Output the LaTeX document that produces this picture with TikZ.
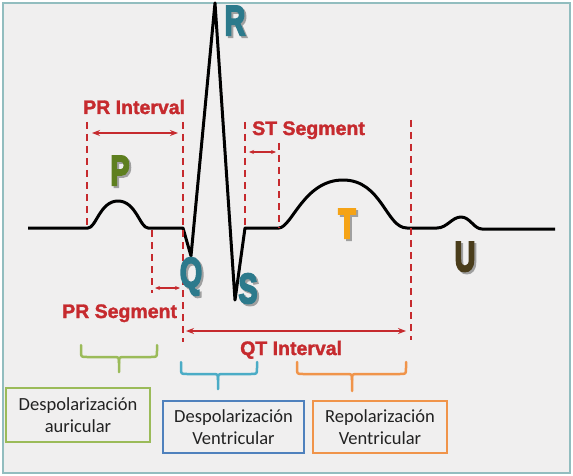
\documentclass[tikz,border=0pt]{standalone}
\usepackage{fontspec}
\usepackage{graphicx}
\newfontfamily\labfont{Liberation Sans}[UprightFont={* Bold}, FakeBold=1.6]
\newfontfamily\bigfont{Liberation Sans}[UprightFont={* Bold}, FakeBold=5]
\newfontfamily\boxfont{Carlito}
\usetikzlibrary{arrows.meta}
\definecolor{redl}{HTML}{C62A2E}
\definecolor{bgc}{HTML}{F0EFEF}
\definecolor{framec}{HTML}{92BDBF}
\definecolor{pcol}{HTML}{5E7F1F}
\definecolor{qcol}{HTML}{2C7A8C}
\definecolor{tcol}{HTML}{F5A316}
\definecolor{ucol}{HTML}{4A3D1B}
\definecolor{shad}{HTML}{A0A0A0}
\definecolor{gbr}{HTML}{9BBB59}
\definecolor{bbr}{HTML}{4BACC6}
\definecolor{obr}{HTML}{F0944A}
\definecolor{bbox}{HTML}{4F81BD}
\definecolor{txt}{HTML}{222222}
\newcommand{\shletter}[2]{\makebox[0pt][l]{\hspace{2pt}\raisebox{-2pt}{\color{shad}\scalebox{0.68}[1]{#2}}}\textcolor{#1}{\scalebox{0.68}[1]{#2}}}
\begin{document}
\begin{tikzpicture}[x=1pt,y=-1pt,
  wave/.style={line width=3pt, black, line join=round},
  guide/.style={redl, line width=2pt, dash pattern=on 7pt off 5pt},
  meas/.style={redl, line width=1.6pt, {Stealth[length=8pt,width=6pt]}-{Stealth[length=8pt,width=6pt]}},
  smeas/.style={redl, line width=1.4pt, {Stealth[length=5pt,width=4pt]}-{Stealth[length=5pt,width=4pt]}},
  redlabel/.style={redl, font=\labfont\fontsize{19.5}{20}\selectfont, inner sep=0pt, anchor=base west},
  bigletter/.style={font=\bigfont\fontsize{42}{42}\selectfont, inner sep=0pt, anchor=base},
  brace/.style={line width=2.5pt, line cap=round, line join=round},
  infobox/.style={draw, line width=1.8pt, inner sep=0pt, font=\boxfont\fontsize{18.5}{22}\selectfont, text=txt, align=center}
]
\useasboundingbox (0,0) rectangle (573,476);
\fill[white] (0,0) rectangle (573,476);
\fill[bgc] (3,3) rectangle (570,473);
\draw[framec, line width=2pt] (3,3) rectangle (570,473);

% ECG trace
\draw[wave] (28,228) -- (88,228)
  .. controls (96,228) and (100,201) .. (118,201)
  .. controls (136,201) and (140,228) .. (148,228)
  -- (183,228) -- (191,256) -- (215,3) -- (235,300) -- (245,228) -- (279,228)
  .. controls (292,227) and (304,180) .. (343,180)
  .. controls (382,180) and (386,228) .. (407,228)
  -- (437,228)
  .. controls (447,228) and (452,217) .. (461,217)
  .. controls (470,217) and (474,229) .. (482,229) -- (555,229);

% guide lines
\draw[guide] (87,122) -- (87,228);
\draw[guide] (182.5,122) -- (182.5,342);
\draw[guide] (152,230) -- (152,293);
\draw[guide] (245,122) -- (245,228);
\draw[guide] (279,143) -- (279,228);
\draw[guide] (410.5,120) -- (410.5,340);

% measurement arrows
\coordinate (pri1) at (92,133); \coordinate (pri2) at (178,133);
\coordinate (st1) at (249,152); \coordinate (st2) at (276,152);
\coordinate (prs1) at (155,288); \coordinate (prs2) at (180,288);
\coordinate (qt1) at (186,331); \coordinate (qt2) at (406,331);
\draw[meas] (pri1) -- (pri2);
\draw[smeas] (st1) -- (st2);
\draw[smeas] (prs1) -- (prs2);
\draw[meas] (qt1) -- (qt2);

% red labels
\node[redlabel] (lpri) at (83,114) {PR Interval};
\node[redlabel] (lst) at (252,135) {ST Segment};
\node[redlabel] (lprs) at (62,318) {PR Segment};
\node[redlabel] (lqt) at (240,355) {QT Interval};

% wave letters with shadows
\node[bigletter] (wR) at (235,35) {\shletter{qcol}{R}};
\node[bigletter] (wP) at (120,185) {\shletter{pcol}{P}};
\node[bigletter] (wQ) at (191,287) {\shletter{qcol}{Q}};
\node[bigletter] (wS) at (248,303) {\shletter{qcol}{S}};
\node[bigletter] (wT) at (347,238) {\shletter{tcol}{T}};
\node[bigletter] (wU) at (465,271) {\shletter{ucol}{U}};

% braces
\draw[brace, gbr] (81,345) -- (81,351) .. controls (81,357) .. (87,357) -- (113,357)
  .. controls (119,357) .. (119,363) -- (119,372);
\draw[brace, gbr] (119,363) .. controls (119,357) .. (125,357) -- (151,357)
  .. controls (157,357) .. (157,351) -- (157,345);
\draw[brace, bbr] (181,362) -- (181,368) .. controls (181,374) .. (187,374) -- (212,374)
  .. controls (218,374) .. (218,380) -- (218,389);
\draw[brace, bbr] (218,380) .. controls (218,374) .. (224,374) -- (251,374)
  .. controls (257,374) .. (257,368) -- (257,362);
\draw[brace, obr] (297,362) -- (297,368) .. controls (297,374) .. (303,374) -- (346,374)
  .. controls (352,374) .. (352,380) -- (352,391);
\draw[brace, obr] (352,380) .. controls (352,374) .. (358,374) -- (400,374)
  .. controls (406,374) .. (406,368) -- (406,362);

% boxes
\node[infobox, draw=gbr, minimum width=144pt, minimum height=54pt] (bA) at (78,415) {Despolarización\\auricular};
\node[infobox, draw=bbox, minimum width=141pt, minimum height=52pt] (bB) at (233.5,427) {Despolarización\\Ventricular};
\node[infobox, draw=obr, minimum width=134pt, minimum height=52pt] (bC) at (380,427) {Repolarización\\Ventricular};
\end{tikzpicture}
\end{document}
